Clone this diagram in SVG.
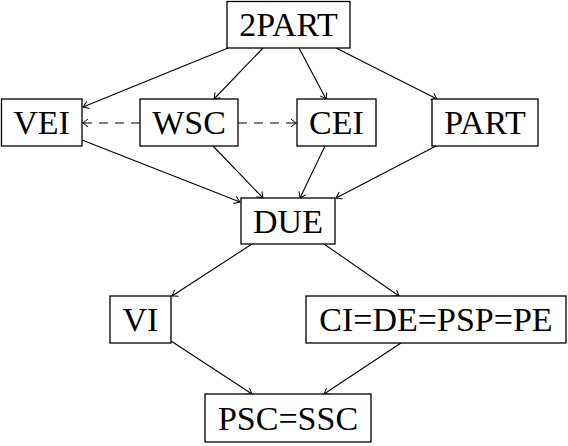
<svg xmlns="http://www.w3.org/2000/svg" width="568" height="446" viewBox="0 0 568 446">
<style>
.box{fill:#fff;stroke:#000;stroke-width:1.3}
.lbl{font-family:'Liberation Serif','Times New Roman',serif;font-size:34px;fill:#000;text-anchor:middle}
.edge{fill:none;stroke:#000;stroke-width:1.1;marker-end:url(#arr)}
.dash{stroke-dasharray:9 7}
</style>
<defs>
<marker id="arr" markerUnits="userSpaceOnUse" markerWidth="12" markerHeight="12" viewBox="-7 -6 8 12" refX="0" refY="0" orient="auto" overflow="visible">
<path d="M-5.5,-3.8 Q-1.6,-0.9 0,0 Q-1.6,0.9 -5.5,3.8" fill="none" stroke="#000" stroke-width="1"/>
</marker>
</defs>
<rect width="568" height="446" fill="#fff"/>
<g id="connectors">
<line class="edge" x1="228" y1="48" x2="83" y2="107"/>
<line class="edge" x1="263" y1="48" x2="214" y2="99"/>
<line class="edge" x1="299" y1="48" x2="326" y2="99"/>
<line class="edge" x1="336" y1="48" x2="437" y2="99"/>
<line class="edge dash" x1="140" y1="123" x2="82.5" y2="123"/>
<line class="edge dash" x1="238" y1="123" x2="296.5" y2="123"/>
<line class="edge" x1="82" y1="140" x2="240" y2="202"/>
<line class="edge" x1="213" y1="146" x2="263" y2="198"/>
<line class="edge" x1="325" y1="146" x2="300" y2="198"/>
<line class="edge" x1="436" y1="146" x2="336" y2="198"/>
<line class="edge" x1="252" y1="244" x2="172" y2="296"/>
<line class="edge" x1="324" y1="244" x2="399" y2="296"/>
<line class="edge" x1="171" y1="341" x2="252" y2="394"/>
<line class="edge" x1="401" y1="343" x2="324" y2="394"/>
</g>
<g id="n2PART"><rect class="box" x="227" y="1.5" width="123" height="46.5"/><text class="lbl" x="288.5" y="36">2PART</text></g>
<g id="nVEI"><rect class="box" x="1.5" y="99" width="80.5" height="47"/><text class="lbl" x="41.5" y="134">VEI</text></g>
<g id="nWSC"><rect class="box" x="140" y="99" width="98" height="47"/><text class="lbl" x="189" y="134">WSC</text></g>
<g id="nCEI"><rect class="box" x="297" y="99" width="79" height="47"/><text class="lbl" x="336.5" y="134">CEI</text></g>
<g id="nPART"><rect class="box" x="432" y="99" width="106" height="47"/><text class="lbl" x="485" y="134">PART</text></g>
<g id="nDUE"><rect class="box" x="241" y="198" width="94" height="46"/><text class="lbl" x="288" y="232.5">DUE</text></g>
<g id="nVI"><rect class="box" x="110" y="296" width="61" height="47"/><text class="lbl" x="140.5" y="331">VI</text></g>
<g id="nCI"><rect class="box" x="306" y="296" width="260" height="47"/><text class="lbl" x="436" y="331">CI=DE=PSP=PE</text></g>
<g id="nPSC"><rect class="box" x="205" y="394" width="166" height="48"/><text class="lbl" x="288" y="429.5">PSC=SSC</text></g>
</svg>
